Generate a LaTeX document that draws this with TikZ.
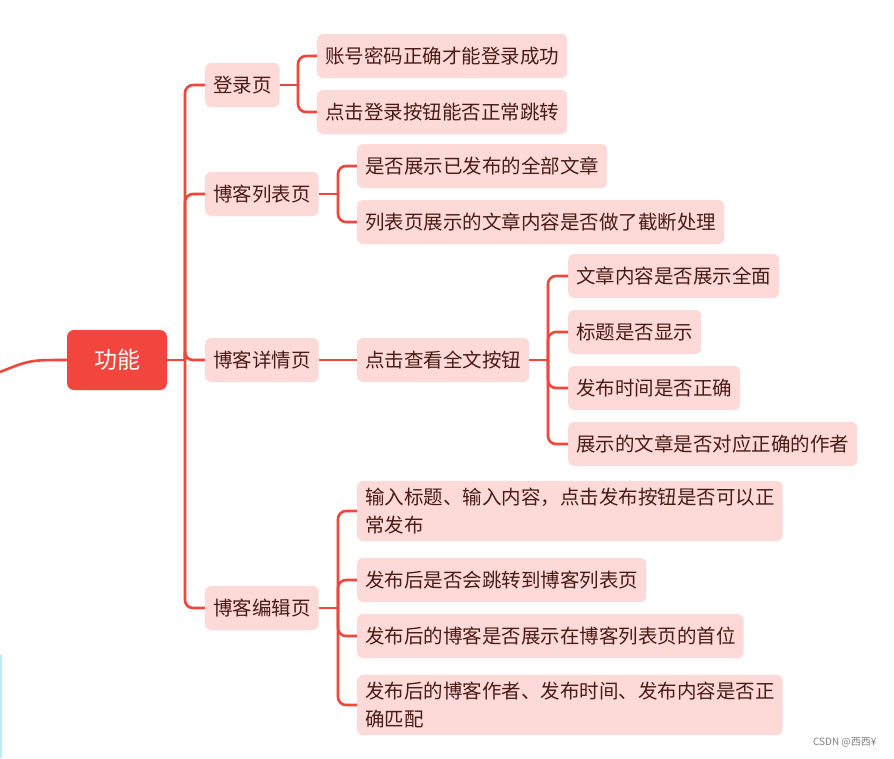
\documentclass[tikz,border=0pt]{standalone}
\usepackage{fontspec}
\setmainfont{Noto Sans CJK SC}
\definecolor{lred}{HTML}{F2453D}
\definecolor{boxf}{HTML}{FDDAD8}
\definecolor{txt}{HTML}{4A1A16}
\begin{document}
\begin{tikzpicture}[x=1pt,y=-1pt,
 leaf/.style={fill=boxf,rounded corners=6pt,anchor=west,minimum height=44pt,inner xsep=8pt,inner ysep=7pt,text=txt,font=\fontsize{19.5}{28}\selectfont,align=left},
 con/.style={draw=lred,line width=2.6pt,rounded corners=8pt}]
\useasboundingbox (0,0) rectangle (894,758);
\fill[white] (0,0) rectangle (894,758);
\fill[cyan!25] (0,655) rectangle (2,758);
\node[fill=lred,rounded corners=7pt,minimum width=100pt,minimum height=60pt,text=white,font=\fontsize{23}{26}\selectfont] (fn) at (117,360) {功能};
\coordinate (lft) at (0,372);
\draw[con] (lft) .. controls (30,360) .. (fn.west);
\node[leaf] (a) at (205,85) {登录页};
\node[leaf] (a1) at (317,56) {账号密码正确才能登录成功};
\node[leaf] (a2) at (317,112) {点击登录按钮能否正常跳转};
\node[leaf] (b) at (205,194) {博客列表页};
\node[leaf] (b1) at (357,166) {是否展示已发布的全部文章};
\node[leaf] (b2) at (357,222) {列表页展示的文章内容是否做了截断处理};
\node[leaf] (c) at (205,360) {博客详情页};
\node[leaf] (c0) at (357,360) {点击查看全文按钮};
\node[leaf] (c1) at (568,276) {文章内容是否展示全面};
\node[leaf] (c2) at (568,332) {标题是否显示};
\node[leaf] (c3) at (568,388) {发布时间是否正确};
\node[leaf] (c4) at (568,444) {展示的文章是否对应正确的作者};
\node[leaf] (d) at (205,608) {博客编辑页};
\node[leaf] (d1) at (357,511) {输入标题、输入内容，点击发布按钮是否可以正\\常发布};
\node[leaf] (d2) at (357,580) {发布后是否会跳转到博客列表页};
\node[leaf] (d3) at (357,636) {发布后的博客是否展示在博客列表页的首位};
\node[leaf] (d4) at (357,705) {发布后的博客作者、发布时间、发布内容是否正\\确匹配};
\coordinate (j0) at (185,360);
\draw[con] (fn.east) -- (j0);
\foreach \n in {a,b,c,d} \draw[con] (j0) |- (\n.west);
\coordinate (ja) at (298,85);
\draw[con] (a.east) -- (ja);
\foreach \n in {a1,a2} \draw[con] (ja) |- (\n.west);
\coordinate (jb) at (338,194);
\draw[con] (b.east) -- (jb);
\foreach \n in {b1,b2} \draw[con] (jb) |- (\n.west);
\draw[con] (c.east) -- (c0.west);
\coordinate (jc) at (548,360);
\draw[con] (c0.east) -- (jc);
\foreach \n in {c1,c2,c3,c4} \draw[con] (jc) |- (\n.west);
\coordinate (jd) at (338,608);
\draw[con] (d.east) -- (jd);
\foreach \n in {d1,d2,d3,d4} \draw[con] (jd) |- (\n.west);
\node[anchor=east,text=gray,font=\fontsize{10}{12}\selectfont] (wm) at (880,742) {CSDN @西西¥};
\end{tikzpicture}
\end{document}
